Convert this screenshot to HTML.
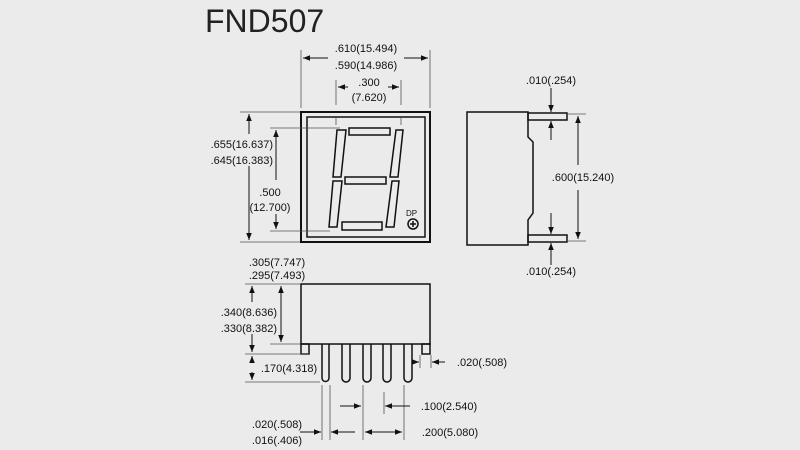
<!DOCTYPE html>
<html><head><style>body{margin:0;background:#ebebeb}svg{display:block}text{font-family:"Liberation Sans",sans-serif;font-size:11px;fill:#111}</style></head><body>
<svg width="800" height="450" viewBox="0 0 800 450">
<defs><marker id="a" viewBox="0 0 10 10" refX="10" refY="5" markerWidth="7" markerHeight="7" orient="auto-start-reverse"><path d="M0,1L10,5L0,9z" fill="#111"/></marker></defs>
<rect width="800" height="450" fill="#ebebeb"/>
<text x="205" y="32" style="font-size:32px;fill:#222">FND507</text>
<g stroke="#111" fill="none" stroke-width="1">
<rect x="301" y="112" width="129" height="130" stroke-width="2"/>
<rect x="307" y="117" width="118" height="120" stroke-width="1.5"/>
<g stroke-width="1.5">
<rect x="349" y="128" width="41" height="7"/>
<polygon points="337,130 346,130 341,177 333,177"/>
<polygon points="396,130 403,130 398,177 390,177"/>
<rect x="345" y="177" width="41" height="7"/>
<polygon points="333,181 342,181 337,227 329,227"/>
<polygon points="392,181 399,181 394,227 386,227"/>
<rect x="342" y="222" width="40" height="8"/>
<circle cx="413" cy="224" r="5"/><path d="M410,224h6M413,221v6"/>
</g>
<g stroke="#555" stroke-width="0.8">
<path d="M301,50V108M430,50V108M336,80V105M401,80V105M336,118v7M401,118v7"/>
<path d="M240,112H300M240,242H300M270,128H340M270,231H330"/>
</g>
<path d="M303,58H328" marker-start="url(#a)"/><path d="M404,58H428" marker-end="url(#a)"/>
<path d="M348,87H338" marker-end="url(#a)"/><path d="M388,87H399" marker-end="url(#a)"/>
<path d="M249,134V114" marker-end="url(#a)"/><path d="M249,166V240" marker-end="url(#a)"/>
<path d="M276,180V130" marker-end="url(#a)"/><path d="M276,214V229" marker-end="url(#a)"/>
<path d="M528,112H467V245H528V220L533,213V142L528,137Z" stroke-width="1.5"/>
<rect x="528" y="113" width="39" height="7" stroke-width="1.5"/>
<rect x="528" y="235" width="39" height="7" stroke-width="1.5"/>
<g stroke="#555" stroke-width="0.8"><path d="M567,114H586M567,241H586"/></g>
<path d="M578,165V116" marker-end="url(#a)"/><path d="M578,190V239" marker-end="url(#a)"/>
<path d="M551,88V112" marker-end="url(#a)"/><path d="M551,140V121" marker-end="url(#a)"/>
<path d="M551,213V234" marker-end="url(#a)"/><path d="M551,265V243" marker-end="url(#a)"/>
<rect x="301" y="284" width="129" height="60" stroke-width="1.5"/>
<rect x="301" y="344" width="8" height="10" stroke-width="1.5"/>
<rect x="422" y="344" width="8" height="10" stroke-width="1.5"/>
<g stroke-width="1.5">
<path d="M322,344V378a3.5,3.5 0 0 0 7,0V344"/>
<path d="M342,344V378a4,4 0 0 0 8,0V344"/>
<path d="M363,344V378a4,4 0 0 0 8,0V344"/>
<path d="M383,344V378a4,4 0 0 0 8,0V344"/>
<path d="M404,344V378a4,4 0 0 0 8,0V344"/>
</g>
<g stroke="#555" stroke-width="0.8">
<path d="M245,284H300M270,344H300M245,354H310M245,382H320"/>
<path d="M420,355V368M431,355V368"/>
<path d="M322,385V440M330,385V440M363,385V440M404,385V440M384,392V414"/>
</g>
<path d="M252,302V286" marker-end="url(#a)"/><path d="M252,334V352" marker-end="url(#a)"/>
<path d="M281,286V342" marker-start="url(#a)" marker-end="url(#a)"/>
<path d="M252,362V356" marker-end="url(#a)"/><path d="M252,372V380" marker-end="url(#a)"/>
<path d="M412,362H419" marker-end="url(#a)"/><path d="M445,362H432" marker-end="url(#a)"/>
<path d="M340,406H361" marker-end="url(#a)"/><path d="M410,406H385" marker-end="url(#a)"/>
<path d="M300,432H321" marker-end="url(#a)"/><path d="M355,432H331" marker-end="url(#a)"/>
<path d="M365,432H402" marker-start="url(#a)" marker-end="url(#a)"/>
</g>
<g text-anchor="middle">
<text x="366" y="52">.610(15.494)</text><text x="366" y="69">.590(14.986)</text>
<text x="369" y="86">.300</text><text x="369" y="101">(7.620)</text>
<text x="273" y="148" style="text-anchor:end">.655(16.637)</text>
<text x="273" y="164" style="text-anchor:end">.645(16.383)</text>
<text x="270" y="196">.500</text><text x="270" y="211">(12.700)</text>
<text x="551" y="84">.010(.254)</text><text x="551" y="275">.010(.254)</text>
<text x="583" y="181">.600(15.240)</text>
<text x="277" y="266">.305(7.747)</text><text x="277" y="279">.295(7.493)</text>
<text x="277" y="316" style="text-anchor:end">.340(8.636)</text><text x="277" y="332" style="text-anchor:end">.330(8.382)</text>
<text x="289" y="372">.170(4.318)</text>
<text x="482" y="366">.020(.508)</text>
<text x="449" y="410">.100(2.540)</text>
<text x="450" y="436">.200(5.080)</text>
<text x="277" y="428">.020(.508)</text><text x="277" y="444">.016(.406)</text>
</g>
<text x="406" y="216" style="font-size:8px">DP</text>
</svg>
</body></html>
